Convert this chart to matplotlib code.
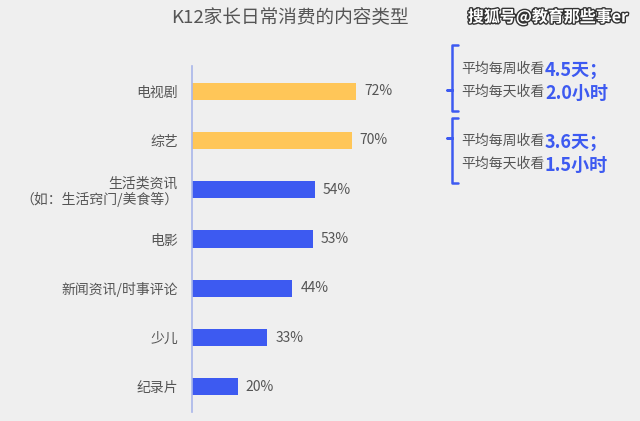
import matplotlib
matplotlib.use("Agg")
import matplotlib.pyplot as plt
from matplotlib.lines import Line2D
import matplotlib.patheffects as pe

plt.rcParams['font.family'] = ['Noto Sans CJK SC', 'DejaVu Sans']

categories = ["电视剧", "综艺", "生活类资讯\n（如：生活窍门/美食等）", "电影", "新闻资讯/时事评论", "少儿", "纪录片"]
values = [72, 70, 54, 53, 44, 33, 20]
highlight = [True, True, False, False, False, False, False]
title = "K12家长日常消费的内容类型"
notes = [
    [("平均每周收看", "4.5天；"), ("平均每天收看", "2.0小时")],
    [("平均每周收看", "3.6天；"), ("平均每天收看", "1.5小时")],
]

W, H = 640, 421
BG = "#efefef"
YELLOW = "#ffc658"
BLUE = "#3d5af1"
GRAY = "#555555"

fig = plt.figure(figsize=(W / 100, H / 100), dpi=100, facecolor=BG)

def fx(px):
    return px / W

def fy(py):
    return 1 - py / H

ax_left, ax_top, ax_bottom = 192, 66, 412
ax = fig.add_axes([fx(ax_left), fy(ax_bottom), fx(228), (ax_bottom - ax_top) / H])
ax.set_facecolor(BG)
ypos = list(range(len(categories)))
colors = [YELLOW if h else BLUE for h in highlight]
ax.barh(ypos, values, height=0.345, color=colors, edgecolor="none")
ax.set_xlim(0, 100)
ax.set_ylim(6.51, -0.51)
for s in ["top", "right", "bottom"]:
    ax.spines[s].set_visible(False)
ax.spines["left"].set_color("#a9b6ea")
ax.spines["left"].set_linewidth(1.2)
ax.set_xticks([])
ax.set_yticks(ypos)
ax.set_yticklabels(categories, fontsize=10, color=GRAY, linespacing=1.1)
ax.tick_params(axis="y", length=0, pad=10)
for y, v in zip(ypos, values):
    ax.text(v + 3.5, y, f"{v}%", va="center", ha="left", fontsize=10, color=GRAY)

fig.text(fx(290), fy(18), title, ha="center", va="center", fontsize=13.4, color="#555555")
fig.text(fx(548), fy(17), "搜狐号@教育那些事er", ha="center", va="center", fontsize=11.5,
         color="white", fontweight="bold",
         path_effects=[pe.withStroke(linewidth=2, foreground="#333333")])

# brackets
def bracket(top, bottom, mid):
    xs = [458, 452, 452, 447, 452, 452, 458]
    ys = [top, top, mid, mid, mid, bottom, bottom]
    fig.add_artist(Line2D([fx(x) for x in xs], [fy(y) for y in ys], color=BLUE, lw=1.8,
                          solid_joinstyle="round", solid_capstyle="round"))

bracket(45, 111, 90)
bracket(118, 183, 138)

line_y = [[73, 96], [145, 168]]
for block, ys in zip(notes, line_y):
    for (g, b), yy in zip(block, ys):
        t = fig.text(fx(461), fy(yy), g, ha="left", va="baseline", fontsize=10, color=GRAY)
        ax.annotate(b, xy=(1, 0), xycoords=t, xytext=(0.5, 0), textcoords="offset points",
                    ha="left", va="baseline", fontsize=13, color=BLUE, fontweight="bold",
                    annotation_clip=False)

fig.savefig("out.png", dpi=100, facecolor=BG)
